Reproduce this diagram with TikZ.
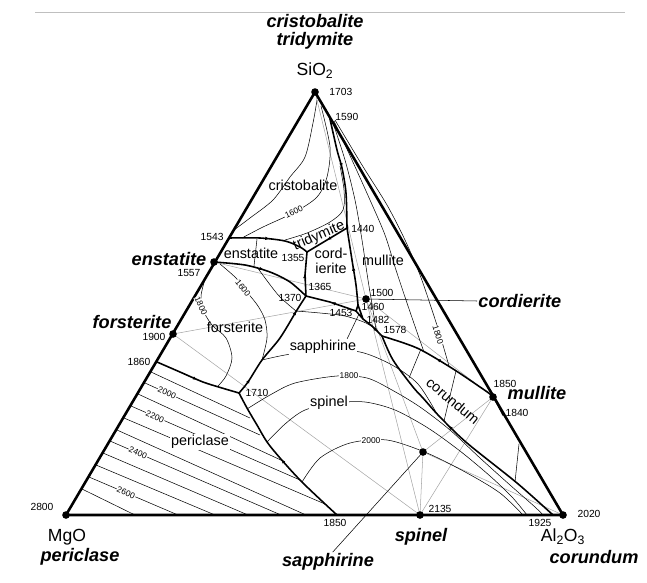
\documentclass[tikz,border=0pt]{standalone}
\usepackage{fontspec}
\setmainfont{Liberation Sans}
\usetikzlibrary{positioning, arrows.meta, decorations.markings}

\begin{document}
\begin{tikzpicture}[x=0.03cm, y=-0.03cm,
    edge/.style={line width=2.2pt, line join=round},
    bound/.style={line width=1.35pt, line join=round, line cap=round},
    flow/.style={bound, postaction={decorate, decoration={markings,
        mark=at position #1 with {\arrow{Latex[length=3.6pt, width=3pt]}}}}},
    flow/.default=0.5,
    iso/.style={line width=0.45pt},
    tie/.style={line width=0.45pt, black!35},
    dot/.style={circle, fill=black, inner sep=0pt, minimum size=6.5pt},
    temp/.style={font=\fontsize{8.8}{10}\selectfont, inner sep=1pt},
    isolabel/.style={font=\fontsize{7.2}{8}\selectfont, fill=white, inner sep=0.6pt},
    field/.style={font=\fontsize{12.3}{14}\selectfont, inner sep=1pt},
    mineral/.style={font=\fontsize{15.5}{17}\selectfont\bfseries\itshape, inner sep=1pt},
    oxide/.style={font=\fontsize{15}{17}\selectfont, inner sep=1pt}
]
\useasboundingbox (0,0) rectangle (647,582);
\draw[black!25, line width=0.6pt] (35,12) -- (625,12);

% compositions
\coordinate (si) at (315,92);
\coordinate (mg) at (66,515);
\coordinate (al) at (563,515);
\coordinate (en) at (214,262);
\coordinate (fo) at (173,334);
\coordinate (cd) at (366,299);
\coordinate (mu) at (493,397);
\coordinate (sa) at (423,452);
\coordinate (sp) at (420,515);
% invariant points
\coordinate (t1590) at (330,119);
\coordinate (t1543) at (229,238);
\coordinate (t1440) at (347,228);
\coordinate (t1355) at (307,252);
\coordinate (t1365) at (306,296);
\coordinate (t1460) at (358,305);
\coordinate (t1453) at (356,311);
\coordinate (t1482) at (363,319);
\coordinate (t1578) at (382,336);
\coordinate (t1710) at (239,393);
\coordinate (t1860) at (157,362);
\coordinate (t1850) at (337,515);
\coordinate (t1840) at (503,415);
\coordinate (t1925) at (553,515);

% compatibility joins
\foreach \a/\b in {en/cd, fo/cd, fo/sp, si/cd, cd/sp, cd/sa, cd/mu, sa/sp, sa/mu, sa/al, sp/mu}
  \draw[tie] (\a) -- (\b);

% isotherms
\draw[iso] plot[smooth] coordinates {(317,100) (313,123) (305,157) (290,177) (273,200) (250,218) (234,230)};
\draw[iso] plot[smooth] coordinates {(321,106) (330,147) (327,177) (317,197) (295,212) (263,227) (242,238)};
\draw[iso] plot[smooth] coordinates {(340,166) (344,190) (343,210) (330,222) (307,233) (285,240)};
\draw[iso] (257,239) -- (254,266);
\draw[iso] plot[smooth] coordinates {(205,279) (201,296) (203,310) (212,325) (226,338) (232,358) (226,376) (218,386)};
\draw[iso] plot[smooth] coordinates {(220,264) (236,278) (247,292) (258,306) (265,320) (267,338) (262,360)};
\draw[iso] plot[smooth] coordinates {(257,267) (268,282) (280,297) (296,311)};
\draw[iso] plot[smooth] coordinates {(296,311) (320,313) (345,316) (366,323) (378,331)};
\draw[iso] plot[smooth] coordinates {(262,360) (285,355) (320,350) (360,352) (392,365) (418,384) (437,414)};
\draw[iso] plot[smooth] coordinates {(247,409) (270,395) (295,383) (337,376) (367,378) (392,390) (420,407) (450,430) (480,458) (510,485) (535,507) (543,515)};
\draw[iso] plot[smooth] coordinates {(267,442) (285,424) (305,410) (335,403) (365,402) (395,410) (428,428) (460,451) (490,476) (512,497) (527,515)};
\draw[iso] plot[smooth] coordinates {(302,482) (320,458) (350,443) (387,440) (427,453) (467,473) (500,493) (523,515)};
\draw[iso] plot[smooth] coordinates {(333,123) (345,160) (355,200) (362,240) (368,280) (373,310) (376,330)};
\draw[iso] plot[smooth] coordinates {(334,121) (352,160) (370,200) (385,235) (396,270) (407,303) (418,335) (424,352)};
\draw[iso] plot[smooth] coordinates {(335,120) (362,165) (387,205) (405,240) (420,275) (432,310) (440,335) (449,366)};
\draw[iso] (409,378) -- (421,349);
\draw[iso] (444,421) -- (456,371);
\draw[iso] (515,482) -- (519,444);
\foreach \sx/\sy/\ex/\ey in {151/372/250/418, 145/383/260/435, 138/394/283/461,
    131/406/300/480, 124/418/325/504, 117/430/306/515, 110/441/281/515,
    103/453/248/515, 96/465/215/515, 89/477/178/515, 82/489/135/515}
  \draw[iso] (\sx,\sy) -- (\ex,\ey);

% boundary curves
\draw[flow=0.45] plot[smooth] coordinates {(t1590) (337,150) (342,168) (346,193) (347,228)};
\draw[flow=0.5] plot[smooth] coordinates {(t1543) (260,238) (285,241) (300,247) (t1355)};
\draw[flow] (t1440) -- (t1355);
\draw[flow] (t1365) -- (305,275) -- (t1355);
\draw[flow] plot[smooth] coordinates {(en) (245,265) (270,272) (290,282) (t1365)};
\draw[flow] (t1453) -- (330,302) -- (t1365);
\draw[flow] plot[smooth] coordinates {(t1460) (356,285) (352,260) (t1440)};
\draw[bound] (t1453) -- (t1460) -- (t1482) -- (t1453);
\draw[flow] (t1578) -- (372,326) -- (t1482);
\draw[flow=0.15, flow=0.85] plot[smooth] coordinates {(t1710) (248,382) (262,360) (280,338) (297,310) (t1365)};
\draw[flow] plot[smooth] coordinates {(t1860) (180,372) (203,382) (222,388) (t1710)};
\draw[flow] plot[smooth] coordinates {(t1850) (300,480) (270,446) (257,425) (247,408) (t1710)};
\draw[flow=0.55] plot[smooth] coordinates {(t1925) (517,483) (467,443) (440,417) (423,398) (413,387) (393,360) (t1578)};
\draw[flow=0.6] plot[smooth] coordinates {(t1840) (mu) (480,387) (450,367) (417,348) (t1578)};

% triangle
\draw[edge] (si) -- (mg) -- (al) -- cycle;

% phases
\foreach \p in {si, mg, al, en, fo, cd, mu, sa, sp}
  \node[dot] (\p-dot) at (\p) {};

% melting and invariant temperatures
\node[temp, anchor=west] (n1703) at (328,92) {1703};
\node[temp, anchor=west] (n1590) at (334,117) {1590};
\node[temp, anchor=east] (n1543) at (225,237) {1543};
\node[temp] (n1557) at (189,273) {1557};
\node[temp] (n1355) at (293,258) {1355};
\node[temp, anchor=west] (n1440) at (350,229) {1440};
\node[temp] (n1365) at (320,287) {1365};
\node[temp] (n1370) at (290,298) {1370};
\node[temp] (n1500) at (382,293) {1500};
\node[temp] (n1460) at (373,307) {1460};
\node[temp] (n1453) at (341,313) {1453};
\node[temp] (n1482) at (378,320) {1482};
\node[temp] (n1578) at (395,330) {1578};
\node[temp] (n1710) at (257,393) {1710};
\node[temp] (n1900) at (154,337) {1900};
\node[temp] (n1860) at (139,362) {1860};
\node[temp] (n2800) at (42,507) {2800};
\node[temp] (n1850b) at (335,523) {1850};
\node[temp] (n2135) at (440,509) {2135};
\node[temp] (n1925) at (540,523) {1925};
\node[temp] (n2020) at (589,514) {2020};
\node[temp] (n1850m) at (505,384) {1850};
\node[temp] (n1840) at (517,413) {1840};

% isotherm labels
\node[isolabel, rotate=25] (i1600c) at (294,212) {1600};
\node[isolabel, rotate=-52] (i1600f) at (243,288) {1600};
\node[isolabel, rotate=-65] (i1800f) at (201,306) {1800};
\node[isolabel] (i1800s) at (349,376) {1800};
\node[isolabel] (i2000s) at (371,441) {2000};
\node[isolabel, rotate=-72] (i1800m) at (438,335) {1800};
\node[isolabel, rotate=-24] (i2000p) at (167,393) {2000};
\node[isolabel, rotate=-24] (i2200p) at (155,417) {2200};
\node[isolabel, rotate=-24] (i2400p) at (138,453) {2400};
\node[isolabel, rotate=-24] (i2600p) at (126,493) {2600};

% primary fields
\node[field] (fcrist) at (303,185) {cristobalite};
\node[field, rotate=23] (ftrid) at (319,236) {tridymite};
\node[field] (fenst) at (251,253) {enstatite};
\node[field] (fcord) at (331,253) {cord-};
\node[field] (fcord2) at (331,268) {ierite};
\node[field] (fmull) at (383,260) {mullite};
\node[field] (ffors) at (235,327) {forsterite};
\node[field, fill=white] (fsapph) at (323,347) {sapphirine};
\node[field, fill=white] (fspin) at (329,403) {spinel};
\node[field, fill=white] (fperi) at (200,442) {periclase};
\node[field, rotate=-40] (fcor) at (453,401) {corundum};
\coordinate (sfield) at (359,314);
\draw[iso] ([xshift=-9pt]fsapph.north east) -- (sfield);

% components and compounds
\node[mineral] (lcrist) at (315,21) {cristobalite};
\node[mineral] (ltrid) at (315,41) {tridymite};
\node[oxide] (lsi) at (315,71) {SiO\textsubscript{2}};
\node[mineral] (lenst) at (169,259) {enstatite};
\node[mineral] (lfors) at (132,322) {forsterite};
\node[mineral, anchor=west] (lcord) at (477,301) {cordierite};
\node[mineral] (lmull) at (537,393) {mullite};
\node[oxide] (lmg) at (67,537) {MgO};
\node[mineral] (lperi) at (80,557) {periclase};
\node[mineral] (lspin) at (421,537) {spinel};
\node[mineral] (lsapph) at (328,562) {sapphirine};
\node[oxide] (lal) at (563,537) {Al\textsubscript{2}O\textsubscript{3}};
\node[mineral] (lcor) at (594,557) {corundum};
\draw[iso] (cd) -- (lcord.west);
\draw[iso] (sa) -- ([xshift=4pt]lsapph.north);
\end{tikzpicture}
\end{document}
